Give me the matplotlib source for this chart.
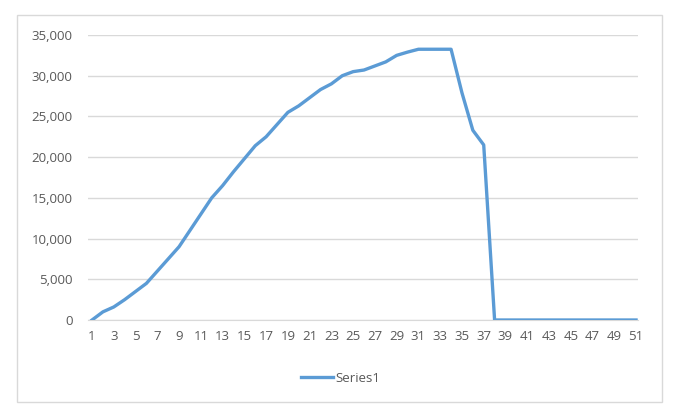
import matplotlib
matplotlib.use('Agg')
from matplotlib import pyplot as plt
from matplotlib.patches import Rectangle
from matplotlib.ticker import FuncFormatter

plt.rcParams['font.family'] = ['Open Sans', 'DejaVu Sans']

weeks = list(range(1, 52))
values = [0, 1000, 1600, 2500, 3500, 4500, 6000, 7500, 9000, 11000,
          13000, 15000, 16500, 18200, 19800, 21400, 22500, 24000, 25500, 26300,
          27300, 28300, 29000, 30000, 30500, 30700, 31200, 31700, 32500, 32900,
          33250, 33250, 33250, 33250, 27900, 23300, 21500, 0, 0, 0,
          0, 0, 0, 0, 0, 0, 0, 0, 0, 0, 0]
yticks = [0, 5000, 10000, 15000, 20000, 25000, 30000, 35000]
xticks = list(range(1, 52, 2))

txt = '#595959'
grid = '#d9d9d9'
blue = '#5b9bd5'

fig = plt.figure(figsize=(6.8, 4.19), dpi=100)
# chart area border
fig.patches.append(Rectangle((17/680, 1-402/419), (662-17)/680, (402-15)/419,
                             transform=fig.transFigure, fill=False,
                             edgecolor=grid, linewidth=1))

ax = fig.add_axes([88/680, 1-320/419, (638-88)/680, (320-35)/419])
ax.plot(weeks, values, color=blue, linewidth=2.4, label='Series1',
        solid_joinstyle='round', zorder=3)

ax.set_xlim(0.63, 51.18)
ax.set_ylim(0, 35000)
ax.set_yticks(yticks)
ax.set_xticks(xticks)
ax.yaxis.set_major_formatter(FuncFormatter(lambda v, p: f'{int(v):,}'))
ax.grid(axis='y', color=grid, linewidth=1)
ax.set_axisbelow(True)
for s in ['top', 'right', 'left']:
    ax.spines[s].set_visible(False)
ax.spines['bottom'].set_color(grid)
ax.tick_params(axis='both', length=0, colors=txt, labelsize=9.5)
ax.tick_params(axis='y', pad=11)
ax.tick_params(axis='x', pad=7)

fig.legend(loc='center', bbox_to_anchor=(341/680, 1-378/419), frameon=False,
           fontsize=9.5, labelcolor=txt, handlelength=2.4, handletextpad=0.2)

fig.savefig('out.png', dpi=100)
